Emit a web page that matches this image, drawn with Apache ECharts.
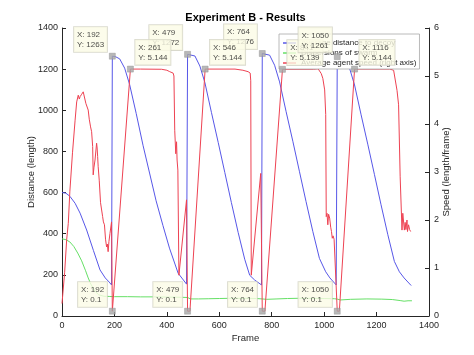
<!DOCTYPE html>
<html>
<head>
<meta charset="utf-8">
<script src="https://cdn.jsdelivr.net/npm/echarts@6/dist/echarts.min.js"></script>
<style>
  html, body { margin: 0; padding: 0; background: #fff; }
  #chart { width: 474px; height: 355px; }
</style>
</head>
<body>
<div id="chart"></div>
<script>
// ---- data ----
const distFrames = [0,15,30,50,69,94,120,145,165,180,189,
  192,205,220,239,258,283,309,334,359,385,410,443,460,475,
  479,507,526,545,570,596,621,646,672,697,716,735,761,
  764,792,811,830,855,881,906,931,957,982,1006,1022,1046,
  1050,1078,1097,1116,1141,1167,1192,1217,1243,1268,1287,1305,1332];
const distValues = [600,597,582,548,500,418,318,224,185,165,151,
  1263,1260,1250,1205,1125,985,830,695,560,440,330,208,180,155,
  1272,1264,1215,1135,990,843,698,552,406,276,198,175,151,
  1276,1268,1219,1138,993,847,701,556,410,280,215,185,151,
  1261,1253,1204,1123,978,832,687,541,395,265,215,185,148];

const dispFrames = [0,15,30,45,60,75,90,100,110,125,140,160,180,200,250,300,350,400,450,479,490,520,560,600,640,700,740,764,780,820,860,900,950,1000,1040,1050,1062,1100,1163,1220,1260,1290,1305,1320,1335];
const dispValues = [375,371,360,338,306,268,220,185,155,122,103,96,95,94,94,93,93,92,91,90,83,83,84,85,86,86,85,83,81,83,85,86,86,85,84,82,78,81,83,82,80,75,72,74,74];

const speedFrames = [0,10,18,24,30,40,50,56,62,66,69,75,81,88,91,95,100,104,109,113,117,119,122,126,132,134,136,138,142,147,151,155,157,158,162,166,170,173,176,179,183,189,192,
  197,261,300,380,400,411,424,427,430,432,434,437,439,442,446,475,479,
  488,546,660,690,710,718,720,722,758,764,
  774,841,960,977,989,995,1002,1006,1008,1011,1014,1017,1021,1025,1028,1031,1034,1038,1050,
  1058,1116,1250,1265,1272,1278,1284,1290,1297,1300,1303,1306,1309,1312,1316,1318,1322,1326,1330];
const speedValues = [0.26,0.9,1.6,1.93,2.6,3.4,4.08,4.46,4.6,4.52,4.57,4.62,4.67,4.67,4.43,4.4,4.29,4.1,3.94,3.84,3.53,2.94,3.1,3.25,3.6,3.5,3.32,3.11,2.83,2.36,2.35,2.07,2.1,1.96,1.9,1.6,1.44,1.5,1.34,1.55,1.72,1.96,0.1,
  0.1,5.144,5.144,5.14,5.12,5.09,5.06,5.0,3.87,3.9,3.38,3.63,3.25,3.04,0.85,2.42,0.1,
  0.1,5.144,5.144,5.12,5.09,5.06,4.9,0.85,2.97,0.1,
  0.1,5.139,5.14,5.15,5.05,4.95,4.71,4.2,2.07,2.14,1.9,2.12,2.04,1.85,1.76,1.62,1.67,1.6,0.1,
  0.1,5.144,5.144,5.12,5.1,4.7,4.4,2.9,1.79,2.14,2.1,1.79,1.95,1.8,2.0,1.76,1.9,1.8,1.76];

const seriesNames = ['Average distance to decoy', 'Dispersions of swarm', 'Average agent speed (right axis)'];

// data tips (in drawing order)
const topTipX    = [192, 479, 261, 764, 546, 841, 1050, 1116];
const topTipY    = [1263, 1272, 5.144, 1276, 5.144, 5.139, 1261, 5.144];
const topTipAxis = [0, 0, 1, 0, 1, 1, 0, 1];
const bottomTipX = [192, 479, 764, 1050];
const bottomTipY = [0.1, 0.1, 0.1, 0.1];

// ---- chart ----
const zip = (a, b) => a.map((v, i) => [v, b[i]]);
const FONT = 'Liberation Sans, Arial, Helvetica, sans-serif';
const INK = '#262626';
const TIP_FONT = 8;
const mctx = document.createElement('canvas').getContext('2d');
mctx.font = TIP_FONT + 'px "Liberation Sans", Arial, sans-serif';

function tipSeries(x, y, axis, side, z) {
  const l1 = 'X: ' + x, l2 = 'Y: ' + String(y);
  const boxW = Math.max(mctx.measureText(l1).width, mctx.measureText(l2).width) + 6;
  const left = side === 'left';
  return {
    type: 'scatter', yAxisIndex: axis, z: z, silent: true,
    data: [[x, y]],
    symbol: 'rect', symbolSize: 6,
    itemStyle: { color: '#a6a6a6', borderColor: '#8a8a8a', borderWidth: 0.5 },
    label: {
      show: true,
      formatter: l1 + '\n' + l2,
      position: left ? [-2 - boxW, -1] : [8, -1],
      align: 'left',
      verticalAlign: 'bottom',
      fontSize: TIP_FONT, lineHeight: 10, color: '#1a1a1a', fontFamily: FONT,
      backgroundColor: '#fbfbe6', borderColor: '#cfcfc0', borderWidth: 0.8,
      padding: [3, 3, 2, 3]
    }
  };
}

const series = [
  { name: seriesNames[0], type: 'line', yAxisIndex: 0, data: zip(distFrames, distValues),
    showSymbol: false, symbol: 'none', lineStyle: { color: '#5757e8', width: 1 }, itemStyle: { color: '#5757e8' } },
  { name: seriesNames[1], type: 'line', yAxisIndex: 0, data: zip(dispFrames, dispValues),
    showSymbol: false, symbol: 'none', lineStyle: { color: '#66e066', width: 1 }, itemStyle: { color: '#66e066' } },
  { name: seriesNames[2], type: 'line', yAxisIndex: 1, data: zip(speedFrames, speedValues),
    showSymbol: false, symbol: 'none', lineStyle: { color: '#ee4252', width: 1 }, itemStyle: { color: '#ee4252' } }
];
topTipX.forEach((x, i) => {
  series.push(tipSeries(x, topTipY[i], topTipAxis[i], topTipAxis[i] === 1 ? 'right' : 'left', 10 + i));
});
bottomTipX.forEach((x, i) => {
  series.push(tipSeries(x, bottomTipY[i], 1, 'left', 30 + i));
});

const axisCommon = {
  axisLine: { show: true, onZero: false, lineStyle: { color: INK, width: 1 } },
  axisTick: { show: true, inside: true, length: 4, lineStyle: { color: INK, width: 1 } },
  splitLine: { show: false },
  nameMoveOverlap: false,
  nameTextStyle: { fontSize: 9.5, color: INK, fontFamily: FONT }
};
const plain = v => String(v);

const option = {
  animation: false,
  backgroundColor: '#ffffff',
  textStyle: { fontFamily: FONT },
  title: {
    text: 'Experiment B - Results', left: 245.5, top: 12, padding: 0, textAlign: 'center',
    textStyle: { fontSize: 11, fontWeight: 'bold', color: '#000', fontFamily: FONT }
  },
  grid: { left: 62, right: 45, top: 28, bottom: 39 },
  legend: {
    data: seriesNames, orient: 'vertical', left: 279, top: 34,
    padding: [4, 3, 1, 4], itemGap: 0, itemWidth: 13, itemHeight: 1.5, icon: 'rect',
    backgroundColor: '#ffffff', borderColor: '#a8a8a8', borderWidth: 0.8,
    selectedMode: false, z: 4,
    textStyle: { fontSize: 8, lineHeight: 10, color: INK, fontFamily: FONT }
  },
  xAxis: Object.assign({
    type: 'value', min: 0, max: 1400, interval: 200,
    name: 'Frame', nameLocation: 'middle', nameGap: 17,
    axisLabel: { fontSize: 9, color: INK, margin: 5, fontFamily: FONT, formatter: plain }
  }, axisCommon),
  yAxis: [
    Object.assign({
      type: 'value', min: 0, max: 1400, interval: 200, position: 'left',
      name: 'Distance (length)', nameLocation: 'middle', nameRotate: 90, nameGap: 26,
      axisLabel: { fontSize: 9, color: INK, margin: 4, fontFamily: FONT, formatter: plain }
    }, axisCommon),
    Object.assign({
      type: 'value', min: 0, max: 6, interval: 1, position: 'right',
      name: 'Speed (length/frame)', nameLocation: 'middle', nameRotate: 90, nameGap: 12,
      axisLabel: { fontSize: 9, color: INK, margin: 5, fontFamily: FONT, formatter: plain }
    }, axisCommon)
  ],
  series: series
};

const chart = echarts.init(document.getElementById('chart'), null, { renderer: 'canvas' });
chart.setOption(option);
</script>
</body>
</html>
